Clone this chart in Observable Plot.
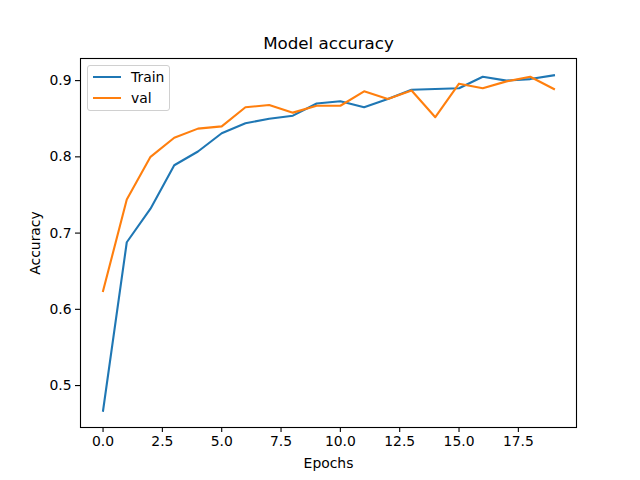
<!DOCTYPE html>
<html>
<head>
<meta charset="utf-8">
<script src="https://cdn.jsdelivr.net/npm/d3@7"></script>
<script src="https://cdn.jsdelivr.net/npm/@observablehq/plot@0.6"></script>
<style>
  html, body { margin: 0; padding: 0; background: #fff; }
  #wrap { position: relative; width: 640px; height: 480px; font-family: "DejaVu Sans", sans-serif; }
  #legend { position: absolute; left: 87px; top: 65px; width: 83px; height: 46px; border: 1px solid #d0d0d0; border-radius: 3px; background: rgba(255,255,255,0.8); box-sizing: border-box; font-size: 13.9px; color: #000; }
  .entry { position: absolute; left: 5px; height: 20px; display: flex; align-items: center; }
  .swatch { width: 28px; height: 0; border-top: 2.1px solid; margin-right: 10px; }
</style>
</head>
<body>
<div id="wrap"></div>
<script>
const epochs = [0,1,2,3,4,5,6,7,8,9,10,11,12,13,14,15,16,17,18,19];
const trainAcc = [0.467,0.688,0.732,0.789,0.807,0.831,0.844,0.850,0.854,0.870,0.873,0.865,0.876,0.888,0.889,0.890,0.905,0.900,0.902,0.907];
const valAcc = [0.624,0.744,0.800,0.825,0.837,0.840,0.865,0.868,0.858,0.867,0.867,0.886,0.876,0.887,0.852,0.896,0.890,0.899,0.905,0.889];
const seriesNames = ["Train", "val"];
const seriesColors = ["#1f77b4", "#ff7f0e"];
const xTicks = [0, 2.5, 5, 7.5, 10, 12.5, 15, 17.5];
const yTicks = [0.5, 0.6, 0.7, 0.8, 0.9];
const titleText = "Model accuracy";
const xLabel = "Epochs";
const yLabel = "Accuracy";

const rows = [];
epochs.forEach((e, i) => {
  rows.push({epoch: e, acc: trainAcc[i], series: seriesNames[0]});
});
epochs.forEach((e, i) => {
  rows.push({epoch: e, acc: valAcc[i], series: seriesNames[1]});
});

const chart = Plot.plot({
  width: 640,
  height: 480,
  marginLeft: 80,
  marginRight: 64,
  marginTop: 58,
  marginBottom: 53,
  style: {fontFamily: "DejaVu Sans, sans-serif", fontSize: "13.9px", color: "#000", background: "#fff"},
  x: {domain: [-0.95, 19.95]},
  y: {domain: [0.445, 0.929]},
  color: {domain: seriesNames, range: seriesColors},
  marks: [
    Plot.line(rows, {x: "epoch", y: "acc", z: "series", stroke: "series", strokeWidth: 2.1, strokeLinejoin: "round", strokeLinecap: "square"}),
    Plot.frame({stroke: "#000", strokeWidth: 1.1}),
    Plot.axisX({ticks: xTicks, tickFormat: d3.format(".1f"), tickSize: 5, tickPadding: 4, strokeWidth: 1.1, label: xLabel, labelAnchor: "center", labelArrow: "none", labelOffset: 40}),
    Plot.axisY({ticks: yTicks, tickFormat: d3.format(".1f"), tickSize: 5, tickPadding: 4, strokeWidth: 1.1, label: yLabel, labelAnchor: "center", labelArrow: "none", labelOffset: 50}),
    Plot.text([titleText], {frameAnchor: "top", dy: -21, fontSize: 16.7, fill: "#000"})
  ]
});

const wrap = document.getElementById("wrap");
wrap.appendChild(chart);

const legend = document.createElement("div");
legend.id = "legend";
seriesNames.forEach((name, i) => {
  const entry = document.createElement("div");
  entry.className = "entry";
  entry.style.top = (1 + i * 21) + "px";
  const sw = document.createElement("span");
  sw.className = "swatch";
  sw.style.borderTopColor = seriesColors[i];
  const lab = document.createElement("span");
  lab.textContent = name;
  entry.appendChild(sw);
  entry.appendChild(lab);
  legend.appendChild(entry);
});
wrap.appendChild(legend);
</script>
</body>
</html>
